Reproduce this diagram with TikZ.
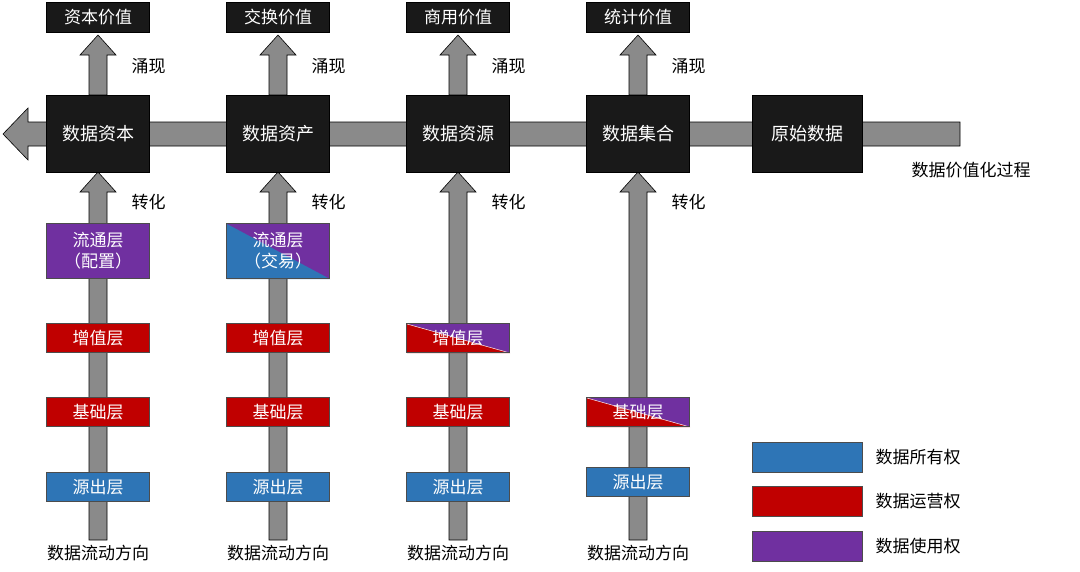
\documentclass[tikz,border=0pt]{standalone}
\usepackage{fontspec}
\setmainfont{Noto Sans CJK SC}
\definecolor{cb}{HTML}{2E75B6}
\definecolor{cr}{HTML}{C00000}
\definecolor{cp}{HTML}{7030A0}
\definecolor{cg}{HTML}{8A8A8A}
\begin{document}
\begin{tikzpicture}[x=1pt,y=-1pt,
 blk/.style={fill=black!90,draw=black,minimum width=103pt,minimum height=77pt,text=white,font=\fontsize{18}{20}\selectfont},
 top/.style={fill=black!90,draw=black,minimum width=103pt,minimum height=30pt,text=white,font=\fontsize{17}{19}\selectfont},
 lay/.style={draw=black!70,minimum width=103pt,minimum height=29pt,text=white,font=\fontsize{17}{21}\selectfont},
 lbl/.style={font=\fontsize{17}{19}\selectfont,anchor=west},
 arr/.style={fill=cg,draw=black,line width=0.6pt}]
\useasboundingbox (0,0) rectangle (1080,571);
% horizontal bar
\draw[arr] (960,122) -- (28,122) -- (28,108) -- (3,134) -- (28,160) -- (28,146) -- (960,146) -- cycle;
\foreach \c in {98,278,458,638}{
 \draw[arr] (\c-9,95) -- (\c-9,55) -- (\c-18,55) -- (\c,35) -- (\c+18,55) -- (\c+9,55) -- (\c+9,95) -- cycle;
 \draw[arr] (\c-9,540) -- (\c-9,192) -- (\c-18,192) -- (\c,172) -- (\c+18,192) -- (\c+9,192) -- (\c+9,540) -- cycle;
}
\node[blk] (b1) at (98,134) {数据资本};
\node[blk] (b2) at (278,134) {数据资产};
\node[blk] (b3) at (458,134) {数据资源};
\node[blk] (b4) at (638,134) {数据集合};
\node[blk,minimum width=110pt] (b5) at (807,134) {原始数据};
\node[top] (t1) at (98,17) {资本价值};
\node[top] (t2) at (278,17) {交换价值};
\node[top] (t3) at (458,17) {商用价值};
\node[top] (t4) at (638,17) {统计价值};
\foreach \c in {98,278,458,638}{
 \node[lbl] at (\c+30,66) {涌现};
 \node[lbl] at (\c+30,202) {转化};
 \node[font=\fontsize{17}{19}\selectfont] at (\c,553) {数据流动方向};
}
\node[lbl] at (908,170) {数据价值化过程};
% layer 流通层
\node[lay,fill=cp,minimum height=55pt,align=center] (l1) at (98,251) {流通层\\（配置）};
\fill[cp] (227,224) rectangle (330,279);
\fill[cb] (227,224) -- (330,279) -- (227,279) -- cycle;
\node[lay,minimum height=55pt,align=center] (l2) at (278,251) {流通层\\（交易）};
% 增值层
\node[lay,fill=cr] (z1) at (98,338) {增值层};
\node[lay,fill=cr] (z2) at (278,338) {增值层};
\fill[cp] (407,324) rectangle (510,353);
\fill[cr] (407,324) -- (510,353) -- (407,353) -- cycle;
\draw[white!80!pink,line width=0.5pt] (407,324) -- (510,353);
\node[lay] (z3) at (458,338) {增值层};
% 基础层
\node[lay,fill=cr] (j1) at (98,412) {基础层};
\node[lay,fill=cr] (j2) at (278,412) {基础层};
\node[lay,fill=cr] (j3) at (458,412) {基础层};
\fill[cp] (587,398) rectangle (690,427);
\fill[cr] (587,398) -- (690,427) -- (587,427) -- cycle;
\draw[white!80!pink,line width=0.5pt] (587,398) -- (690,427);
\node[lay] (j4) at (638,412) {基础层};
% 源出层
\node[lay,fill=cb] (y1) at (98,487) {源出层};
\node[lay,fill=cb] (y2) at (278,487) {源出层};
\node[lay,fill=cb] (y3) at (458,487) {源出层};
\node[lay,fill=cb] (y4) at (638,482) {源出层};
% legend
\node[lay,fill=cb,minimum width=110pt,minimum height=30pt] (g1) at (807,457) {};
\node[lay,fill=cr,minimum width=110pt,minimum height=30pt] (g2) at (807,501) {};
\node[lay,fill=cp,minimum width=110pt,minimum height=30pt] (g3) at (807,546) {};
\node[lbl] at (872,457) {数据所有权};
\node[lbl] at (872,501) {数据运营权};
\node[lbl] at (872,546) {数据使用权};
\end{tikzpicture}
\end{document}
